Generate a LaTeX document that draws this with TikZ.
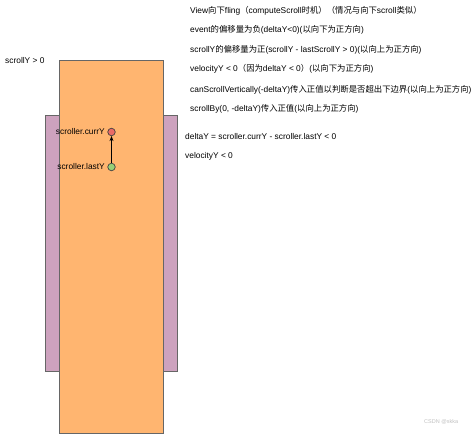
\documentclass[tikz,border=0pt]{standalone}
\usepackage{fontspec}
\setmainfont{Liberation Sans}
\newfontfamily\cjk{Noto Sans CJK SC}
\newcommand{\zh}[1]{{\cjk #1}}
\usepackage{xcolor}
\usetikzlibrary{arrows.meta, positioning}
\definecolor{orangefill}{HTML}{FFB570}
\definecolor{purplefill}{HTML}{CDA2BE}
\definecolor{edgegray}{HTML}{666666}
\definecolor{dotred}{HTML}{EA6B66}
\definecolor{dotgreen}{HTML}{97D077}

\begin{document}
\begin{tikzpicture}[x=1bp, y=-1bp,
    every node/.style = {font=\fontsize{8.4}{10}\selectfont},
    note/.style  = {anchor=west, inner sep=0pt},
    panel/.style = {draw=edgegray, line width=0.8pt},
    dot/.style   = {circle, draw=black!75, line width=0.7pt,
      minimum size=7.5bp, inner sep=0pt}]
  \useasboundingbox (0,0) rectangle (474,439);
  % content behind, view in front
  \draw[panel, fill=purplefill] (45,115) rectangle (177,371);
  \draw[panel, fill=orangefill] (59,60) rectangle (163,433);
  \node[note] (scrolly) at (5,61) {scrollY > 0};
  % scroller positions
  \node[dot, fill=dotred]   (curr) at (111.5,132) {};
  \node[dot, fill=dotgreen] (last) at (111.5,167) {};
  \node[note, anchor=east] (currlabel) at (105,132) {scroller.currY};
  \node[note, anchor=east] (lastlabel) at (105,167) {scroller.lastY};
  \draw[-{Stealth[length=5bp,width=4bp]}, line width=0.7pt] (last) -- (curr);
  % notes
  \node[note] (n1) at (190,11) {View\zh{向下}fling\zh{（}computeScroll\zh{时机）（情况与向下}scroll\zh{类似）}};
  \node[note] (n2) at (190,30) {event\zh{的偏移量为负}(deltaY<0)(\zh{以向下为正方向})};
  \node[note] (n3) at (190,50) {scrollY\zh{的偏移量为正}(scrollY - lastScrollY > 0)(\zh{以向上为正方向})};
  \node[note] (n4) at (190,69) {velocityY < 0\zh{（因为}deltaY < 0\zh{）}(\zh{以向下为正方向})};
  \node[note] (n5) at (190,90) {canScrollVertically(-deltaY)\zh{传入正值以判断是否超出下边界}(\zh{以向上为正方向})};
  \node[note] (n6) at (190,109) {scrollBy(0, -deltaY)\zh{传入正值}(\zh{以向上为正方向})};
  \node[note] (n7) at (185,137) {deltaY = scroller.currY - scroller.lastY < 0};
  \node[note] (n8) at (185,156) {velocityY < 0};
  \node[note, text=black!25, font=\fontsize{5.5}{6}\selectfont] (csdn) at (424,422) {CSDN @skka};
\end{tikzpicture}
\end{document}
